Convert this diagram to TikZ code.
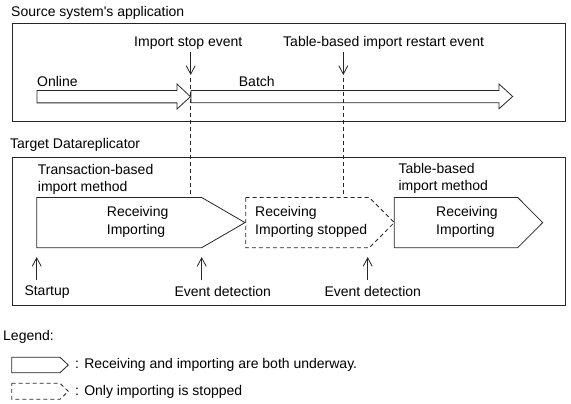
\documentclass[tikz,border=0pt]{standalone}
\usepackage{fontspec}
\setmainfont{Liberation Sans}
\usetikzlibrary{arrows.meta}
\tikzset{
  frame/.style={draw=black!85, line width=0.8pt},
  shapeline/.style={draw=black!85, line width=0.8pt},
  dashline/.style={draw=black!85, line width=0.8pt, dash pattern=on 4pt off 3pt},
  evarrow/.style={draw=black!85, line width=0.8pt, -{Straight Barb[length=8.5pt,width=9pt]}},
  lbl/.style={inner sep=0pt, anchor=west, font=\fontsize{14}{17.3}\selectfont},
  boxtxt/.style={inner sep=0pt, anchor=north west, align=left, font=\fontsize{14}{17.3}\selectfont},
}
\begin{document}
\begin{tikzpicture}[x=1pt,y=-1pt]
\useasboundingbox (0,0) rectangle (571,404);
% --- source system box
\node[lbl] (srctitle) at (11,13) {Source system\textquotesingle s application};
\draw[frame] (12.3,23.3) rectangle (565.3,121.7);
\node[lbl] (stoplbl) at (134,43) {Import stop event};
\node[lbl] (restartlbl) at (283,43) {Table-based import restart event};
% online arrow
\draw[shapeline] (37,90.5) -- (177,90.5) -- (177,84) -- (190.5,96.7) -- (177,109) -- (177,102.9) -- (37,102.9) -- cycle;
\node[lbl] (online) at (37,81) {Online};
% batch arrow
\draw[shapeline] (191,90.5) -- (499,90.5) -- (499,84) -- (512.7,96.5) -- (499,108.7) -- (499,102.7) -- (191,102.7) -- cycle;
\node[lbl] (batch) at (238.7,81) {Batch};
% event arrows and dashed lines
\coordinate (s1) at (190.7,52);
\coordinate (s1t) at (190.7,75);
\coordinate (d1a) at (190.7,78);
\coordinate (d1b) at (190.7,195);
\coordinate (s2) at (343.3,52);
\coordinate (s2t) at (343.3,75);
\coordinate (d2a) at (343.3,78);
\coordinate (d2b) at (343.3,195);
\draw[evarrow] (s1) -- (s1t);
\draw[evarrow] (s2) -- (s2t);
\draw[dashline] (d1a) -- (d1b);
\draw[dashline] (d2a) -- (d2b);
% --- target box
\node[lbl] (tgttitle) at (10,145) {Target Datareplicator};
\draw[frame] (12.3,157.7) rectangle (565.7,305);
\node[boxtxt, anchor=west] (trlbl) at (37.7,179.5) {Transaction-based\\import method};
\node[boxtxt, anchor=west] (tblbl) at (398.3,178.5) {Table-based\\import method};
% chevrons
\draw[shapeline] (36.7,197.5) -- (201.7,197.5) -- (245,222.6) -- (201.7,247.7) -- (36.7,247.7) -- cycle;
\draw[dashline] (245.7,197.5) -- (369.3,197.5) -- (394.3,222.6) -- (369.3,247.7) -- (245.7,247.7) -- cycle;
\draw[shapeline] (394.3,197.5) -- (517.7,197.5) -- (542.7,222.6) -- (517.7,247.7) -- (394.3,247.7) -- cycle;
\node[boxtxt, anchor=west] (b1txt) at (106.7,222) {Receiving\\Importing};
\node[boxtxt, anchor=west] (b2txt) at (255,222) {Receiving\\Importing stopped};
\node[boxtxt, anchor=west] (b3txt) at (436,222) {Receiving\\Importing};
% up arrows
\coordinate (u1) at (36.7,280);
\coordinate (u1t) at (36.7,257);
\coordinate (u2) at (201.7,280);
\coordinate (u2t) at (201.7,257);
\coordinate (u3) at (367.7,280);
\coordinate (u3t) at (367.7,257);
\draw[evarrow] (u1) -- (u1t);
\draw[evarrow] (u2) -- (u2t);
\draw[evarrow] (u3) -- (u3t);
\node[lbl] (startup) at (24.3,291.7) {Startup};
\node[lbl] (ev1) at (174.3,291.7) {Event detection};
\node[lbl] (ev2) at (324.3,291.7) {Event detection};
% --- legend
\node[lbl] (legend) at (3,337) {Legend:};
\draw[shapeline] (11.7,357.3) -- (60,357.3) -- (68.3,365) -- (60,372.7) -- (11.7,372.7) -- cycle;
\draw[dashline] (11.7,383.3) -- (60,383.3) -- (68.3,391.3) -- (60,399.3) -- (11.7,399.3) -- cycle;
\node[lbl] (leg1) at (75,365) {: Receiving and importing are both underway.};
\node[lbl] (leg2) at (75,391.5) {: Only importing is stopped};
\end{tikzpicture}
\end{document}
